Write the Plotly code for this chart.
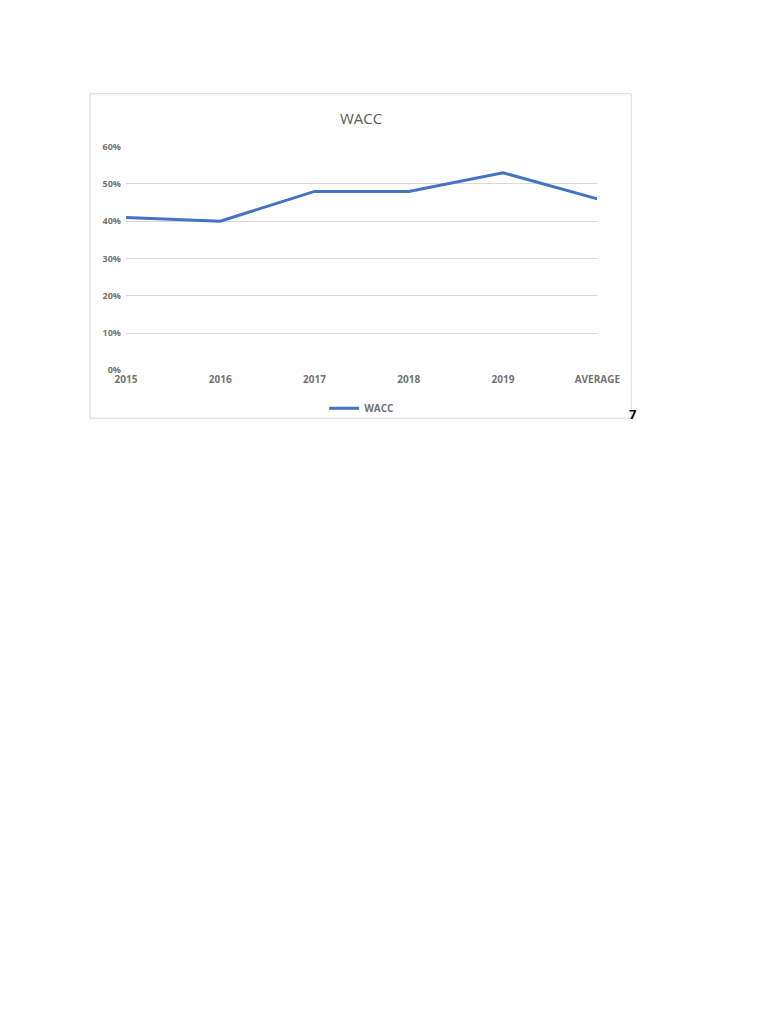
import plotly.graph_objects as go

# WACC per year plus the average
categories = ["2015", "2016", "2017", "2018", "2019", "AVERAGE"]
wacc = [0.41, 0.40, 0.48, 0.48, 0.53, 0.46]
y_ticks = [0, 0.1, 0.2, 0.3, 0.4, 0.5, 0.6]

W, H = 768, 1024

# the page gets photographed a little shifted/scaled, so map the
# wanted screen pixels back to figure pixels
SX, OX = 0.957, 18.9
SY, OY = 0.989, 14.1


def px_x(x):
    return ((x - OX) / SX) / W


def px_y(y):
    return 1 - ((y - OY) / SY) / H


fig = go.Figure()
fig.add_trace(go.Scatter(x=list(range(len(categories))), y=wacc,
                         name="WACC", mode="lines",
                         line=dict(color="#4472C4", width=3)))

fig.update_layout(
    width=W, height=H,
    margin=dict(l=0, r=0, t=0, b=0),
    paper_bgcolor="white", plot_bgcolor="white",
    font=dict(family="Open Sans, Calibri, sans-serif", color="#595959"),
    showlegend=True,
    legend=dict(orientation="h", x=px_x(362), xanchor="center",
                y=px_y(408), yanchor="middle",
                font=dict(size=10, color="#737373", weight="bold"),
                bgcolor="rgba(0,0,0,0)"),
    xaxis=dict(domain=[px_x(126), px_x(598)], range=[0, 5],
               tickvals=list(range(len(categories))), ticktext=categories,
               showgrid=False, zeroline=False, showline=False,
               ticks="", ticklabelstandoff=2,
               tickfont=dict(size=10, color="#737373", weight="bold")),
    yaxis=dict(domain=[px_y(370), px_y(146)], range=[0, 0.6],
               tickvals=y_ticks, tickformat=".0%",
               showgrid=True, gridcolor="#d9d9d9", gridwidth=1,
               zeroline=False, showline=False, ticks="", ticklabelstandoff=4,
               tickfont=dict(size=9, color="#737373", weight="bold")),
)

# chart frame
fig.add_shape(type="rect", xref="paper", yref="paper",
              x0=px_x(90), x1=px_x(632), y0=px_y(418), y1=px_y(93),
              line=dict(color="#d9d9d9", width=1), fillcolor="rgba(0,0,0,0)")

# title
fig.add_annotation(text="WACC", xref="paper", yref="paper",
                   x=px_x(361), y=px_y(117), xanchor="center", yanchor="middle",
                   showarrow=False, font=dict(size=15, color="#595959"))

# page number
fig.add_annotation(text="7", xref="paper", yref="paper",
                   x=px_x(634), y=px_y(414), xanchor="center", yanchor="middle",
                   showarrow=False, font=dict(size=13, color="black", weight="bold"))

fig.write_html("out.html")
